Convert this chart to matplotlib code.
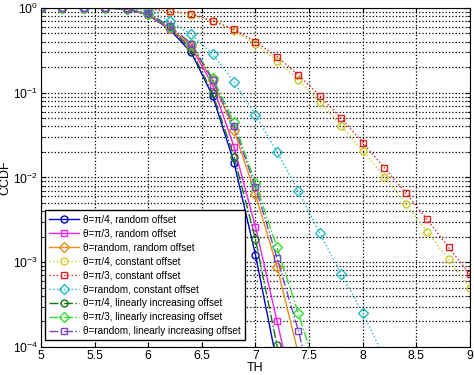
import matplotlib
matplotlib.use('Agg')
import matplotlib.pyplot as plt
from matplotlib.ticker import LogLocator, NullFormatter

plt.rcParams['font.family'] = ['Liberation Sans', 'DejaVu Sans']

# x positions of the simulated points (every 0.2)
th = [5.0, 5.2, 5.4, 5.6, 5.8, 6.0, 6.2, 6.4, 6.6, 6.8, 7.0, 7.2, 7.4, 7.6, 7.8, 8.0, 8.2, 8.4, 8.6, 8.8, 9.0]

# random offset
pi4_rand = [1.0, 1.0, 1.0, 1.0, 0.97, 0.83, 0.56, 0.30, 0.092, 0.015, 0.00122, 0.000065]
pi3_rand = [1.0, 1.0, 1.0, 1.0, 0.97, 0.84, 0.57, 0.35, 0.123, 0.023, 0.0026, 0.000204, 0.000016]
rnd_rand = [1.0, 1.0, 1.0, 1.0, 0.97, 0.85, 0.58, 0.36, 0.14, 0.036, 0.0063, 0.00089, 0.000083]
# constant offset
pi4_const = [1.0, 1.0, 1.0, 1.0, 0.98, 0.97, 0.90, 0.83, 0.70, 0.54, 0.373, 0.239, 0.141,
             0.078, 0.0405, 0.0207, 0.0102, 0.0049, 0.0023, 0.00108, 0.00049]
pi3_const = [1.0, 1.0, 1.0, 1.0, 0.99, 0.98, 0.92, 0.85, 0.71, 0.56, 0.40, 0.267, 0.162,
             0.092, 0.050, 0.0258, 0.0131, 0.0066, 0.0032, 0.0015, 0.00072]
rnd_const = [1.0, 1.0, 1.0, 1.0, 0.98, 0.95, 0.70, 0.49, 0.284, 0.135, 0.0546, 0.0201, 0.0069,
             0.0022, 0.00072, 0.000254, 0.000075]
# linearly increasing offset
pi4_lin = [1.0, 1.0, 1.0, 1.0, 0.97, 0.84, 0.59, 0.32, 0.098, 0.0176, 0.00187, 0.000105, 0.000005]
pi3_lin = [1.0, 1.0, 1.0, 1.0, 0.97, 0.86, 0.60, 0.38, 0.15, 0.045, 0.0085, 0.0015, 0.00025, 0.00004]
rnd_lin = [1.0, 1.0, 1.0, 1.0, 0.97, 0.87, 0.61, 0.38, 0.14, 0.040, 0.0077, 0.00113, 0.000155, 0.000015]

xticks = [5, 5.5, 6, 6.5, 7, 7.5, 8, 8.5, 9]
xticklabels = ['5', '5.5', '6', '6.5', '7', '7.5', '8', '8.5', '9']

series = [
    (pi4_rand, '-', 'o', '#0000cc', 'θ=π/4, random offset'),
    (pi3_rand, '-', 's', '#ee22ee', 'θ=π/3, random offset'),
    (rnd_rand, '-', 'D', '#e8901c', 'θ=random, random offset'),
    (pi4_const, ':', 'o', '#cccc22', 'θ=π/4, constant offset'),
    (pi3_const, ':', 's', '#dd2222', 'θ=π/3, constant offset'),
    (rnd_const, ':', 'D', '#22bbcc', 'θ=random, constant offset'),
    (pi4_lin, '-.', 'o', '#117711', 'θ=π/4, linearly increasing offset'),
    (pi3_lin, '-.', 'D', '#33dd33', 'θ=π/3, linearly increasing offset'),
    (rnd_lin, '-.', 's', '#7744cc', 'θ=random, linearly increasing offset'),
]

fig = plt.figure(figsize=(4.74, 3.75), dpi=100)
ax = fig.add_axes([0.0865, 0.0747, 0.905, 0.904])

for y, ls, mk, col, lab in series:
    ax.semilogy(th[:len(y)], y, linestyle=ls, marker=mk, color=col, markerfacecolor='none',
                markersize=5, linewidth=1.0, markeredgewidth=1.0, label=lab)

ax.set_xlim(5, 9)
ax.set_ylim(1e-4, 1)
ax.set_xticks(xticks)
ax.set_xticklabels(xticklabels)
ax.yaxis.set_major_locator(LogLocator(base=10, numticks=10))
ax.yaxis.set_minor_locator(LogLocator(base=10, subs=range(2, 10), numticks=10))
ax.yaxis.set_minor_formatter(NullFormatter())
ax.grid(True, which='major', linestyle=':', color='black', linewidth=0.9)
ax.grid(True, which='minor', axis='y', linestyle=':', color='black', linewidth=0.9)
ax.tick_params(direction='in', which='both', top=True, right=True, labelsize=8.7)
ax.tick_params(axis='x', pad=2)
ax.tick_params(axis='y', pad=2)
ax.set_xlabel('TH', fontsize=9, va='center')
ax.xaxis.set_label_coords(0.5, -0.062)
ax.set_ylabel('CCDF', fontsize=9, va='center')
ax.yaxis.set_label_coords(-0.082, 0.5)

leg = ax.legend(loc='lower left', bbox_to_anchor=(0.0093, 0.0206), borderaxespad=0,
                fontsize=7.2, frameon=True, fancybox=False, edgecolor='black', framealpha=1,
                handlelength=3.0, labelspacing=0.4, borderpad=0.4, handletextpad=0.4)
leg.get_frame().set_linewidth(1.0)

fig.savefig('out.png', dpi=100)
